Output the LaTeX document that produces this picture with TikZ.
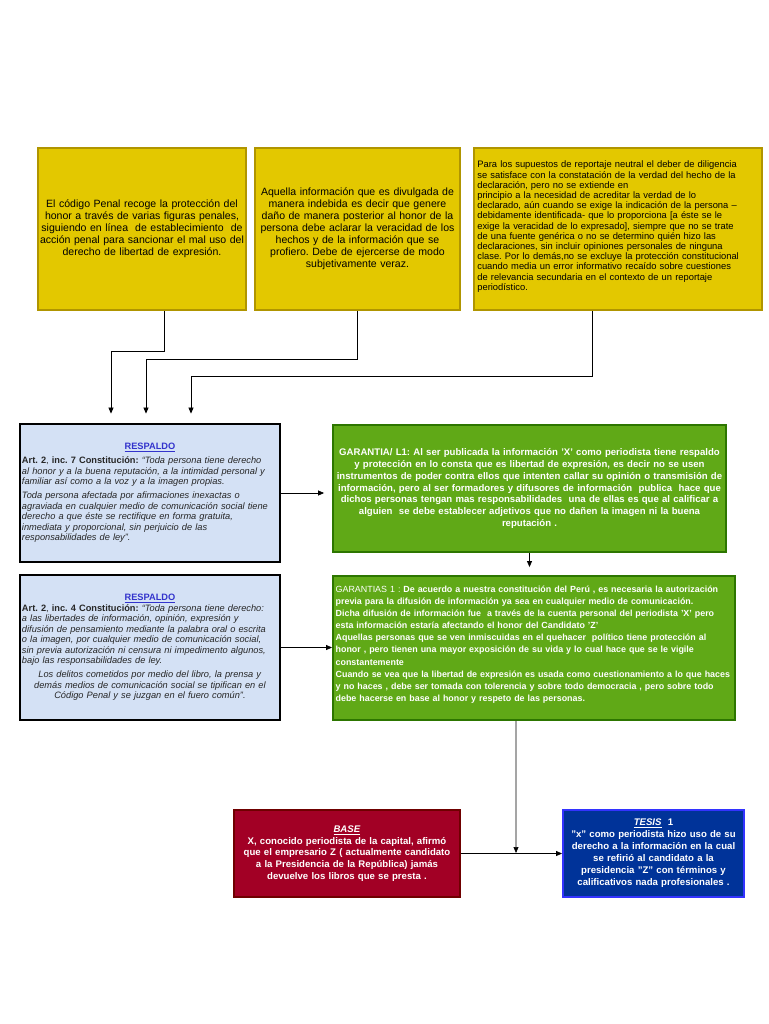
\documentclass[tikz,border=0pt]{standalone}
\usepackage{fontspec}
\setmainfont{Liberation Sans}
\usetikzlibrary{arrows.meta}
\setlength{\parindent}{0pt}
\frenchspacing
\definecolor{amarillo}{HTML}{E3C800}
\definecolor{amarilloborde}{HTML}{B09500}
\definecolor{verde}{HTML}{60A917}
\definecolor{verdeborde}{HTML}{2D7600}
\definecolor{rojo}{HTML}{A20025}
\definecolor{rojoborde}{HTML}{6F0000}
\definecolor{azul}{HTML}{003399}
\definecolor{azulborde}{HTML}{3333FF}
\definecolor{celeste}{HTML}{D4E1F5}
\definecolor{enlace}{HTML}{3333CC}

\begin{document}
\begin{tikzpicture}[x=0.3mm,y=-0.3mm,>={Triangle[length=1.8mm,width=1.5mm]},
  caja/.style={draw,line width=1.6pt,inner ysep=0pt},
  amarilla/.style={caja,fill=amarillo,draw=amarilloborde,text=black,minimum height=48.6mm},
  respaldo/.style={caja,fill=celeste,draw=black,line width=2.4pt,text=black!85,align=left,
    inner xsep=0.6mm,text width=76.8mm,minimum width=78mm,font=\fontsize{7.9}{9}\selectfont},
  verdecaja/.style={caja,fill=verde,draw=verdeborde,text=white,font=\bfseries\fontsize{8.2}{10.2}\selectfont},
  flecha/.style={->,line width=0.6pt}]
  \fill[white] (0,0) rectangle (768,1024);

  % fila de arriba
  \node[amarilla,align=center,text width=61.4mm,minimum width=62.4mm,inner xsep=0.5mm,
    font=\fontsize{9}{10.2}\selectfont] (codigo) at (142,229)
    {El código Penal recoge la protección del\\
     honor a través de varias figuras penales,\\
     siguiendo en línea \ de establecimiento \ de\\
     acción penal para sancionar el mal uso del\\
     derecho de libertad de expresión.};
  \node[amarilla,align=center,text width=60.5mm,minimum width=61.5mm,inner xsep=0.5mm,
    font=\fontsize{9}{10.2}\selectfont] (informacion) at (357.5,229)
    {Aquella información que es divulgada de\\
     manera indebida es decir que genere\\
     daño de manera posterior al honor de la\\
     persona debe aclarar la veracidad de los\\
     hechos y de la información que se\\
     profiero. Debe de ejercerse de modo\\
     subjetivamente veraz.};
  \node[amarilla,align=left,text width=84.4mm,minimum width=86.4mm,inner xsep=1mm,
    font=\fontsize{8}{8.7}\selectfont] (reportaje) at (618,229)
    {Para los supuestos de reportaje neutral el deber de diligencia\\
     se satisface con la constatación de la verdad del hecho de la\\
     declaración, pero no se extiende en\\
     principio a la necesidad de acreditar la verdad de lo\\
     declarado, aún cuando se exige la indicación de la persona --\\
     debidamente identificada- que lo proporciona [a éste se le\\
     exige la veracidad de lo expresado], siempre que no se trate\\
     de una fuente genérica o no se determino quién hizo las\\
     declaraciones, sin incluir opiniones personales de ninguna\\
     clase. Por lo demás,no se excluye la protección constitucional\\
     cuando media un error informativo recaído sobre cuestiones\\
     de relevancia secundaria en el contexto de un reportaje\\
     periodístico.\vspace{4pt}};

  % respaldos
  \node[respaldo,minimum height=41.4mm] (respaldo1) at (150,493)
    {\centerline{\textbf{\textcolor{enlace}{\underline{RESPALDO}}}\rule[-5pt]{0pt}{5pt}}
     \textbf{Art. 2}, \textbf{inc. 7 Constitución:} \textit{“Toda persona tiene derecho}\\
     \textit{al honor y a la buena reputación, a la intimidad personal y}\\
     \textit{familiar así como a la voz y a la imagen propias.}\par
     \vspace{3pt}
     \textit{Toda persona afectada por afirmaciones inexactas o}\\
     \textit{agraviada en cualquier medio de comunicación social tiene}\\
     \textit{derecho a que éste se rectifique en forma gratuita,}\\
     \textit{inmediata y proporcional, sin perjuicio de las}\\
     \textit{responsabilidades de ley”.}};
  \node[respaldo,minimum height=43.5mm] (respaldo2) at (150,647.5)
    {\centerline{\textbf{\textcolor{enlace}{\underline{RESPALDO}}}}
     \textbf{Art. 2}, \textbf{inc. 4 Constitución:} \textit{“Toda persona tiene derecho:}\\
     \textit{a las libertades de información, opinión, expresión y}\\
     \textit{difusión de pensamiento mediante la palabra oral o escrita}\\
     \textit{o la imagen, por cualquier medio de comunicación social,}\\
     \textit{sin previa autorización ni censura ni impedimento algunos,}\\
     \textit{bajo las responsabilidades de ley.}\par
     \vspace{3pt}
     \centerline{\textit{Los delitos cometidos por medio del libro, la prensa y}}
     \centerline{\textit{demás medios de comunicación social se tipifican en el}}
     \centerline{\textit{Código Penal y se juzgan en el fuero común”.}}};

  % garantias
  \node[verdecaja,align=center,text width=116.6mm,minimum width=117.9mm,inner xsep=0.6mm,
    minimum height=38.1mm] (garantia1) at (529.5,488.5)
    {GARANTIA/ L1: Al ser publicada la información 'X' como periodista tiene respaldo\\
     y protección en lo consta que es libertad de expresión, es decir no se usen\\
     instrumentos de poder contra ellos que intenten callar su opinión o transmisión de\\
     información, pero al ser formadores y difusores de información \ publica \ hace que\\
     dichos personas tengan mas responsabilidades \ una de ellas es que al calificar a\\
     alguien \ se debe establecer adjetivos que no dañen la imagen ni la buena\\
     reputación .};
  \node[verdecaja,align=left,text width=119mm,minimum width=120.6mm,inner xsep=0.8mm,
    font=\bfseries\fontsize{7.6}{10.4}\selectfont,minimum height=43.2mm] (garantia2) at (534,648)
    {{\mdseries GARANTIAS 1 :} De acuerdo a nuestra constitución del Perú , es necesaria la autorización\\
     previa para la difusión de información ya sea en cualquier medio de comunicación.\\
     Dicha difusión de información fue \ a través de la cuenta personal del periodista 'X' pero\\
     esta información estaría afectando el honor del Candidato 'Z'\\
     Aquellas personas que se ven inmiscuidas en el quehacer \ político tiene protección al\\
     honor , pero tienen una mayor exposición de su vida y lo cual hace que se le vigile\\
     constantemente\\
     Cuando se vea que la libertad de expresión es usada como cuestionamiento a lo que haces\\
     y no haces , debe ser tomada con tolerencia y sobre todo democracia , pero sobre todo\\
     debe hacerse en base al honor y respeto de las personas.\vspace{6pt}};

  % base y tesis
  \node[caja,fill=rojo,draw=rojoborde,text=white,align=center,text width=66mm,minimum width=67.8mm,
    inner xsep=0.9mm,minimum height=26.1mm,font=\bfseries\fontsize{8.2}{9.9}\selectfont] (base) at (347,853.5)
    {\underline{\textit{BASE}}\\
     X, conocido periodista de la capital, afirmó\\
     que el empresario Z ( actualmente candidato\\
     a la Presidencia de la República) jamás\\
     devuelve los libros que se presta .};
  \node[caja,fill=azul,draw=azulborde,text=white,align=center,text width=52.5mm,minimum width=54.3mm,
    inner xsep=0.9mm,minimum height=26.1mm,font=\bfseries\fontsize{8.2}{10.2}\selectfont] (tesis) at (653.5,853.5)
    {\underline{\textit{TESIS}} \ 1\\
     "x" como periodista hizo uso de su\\
     derecho a la información en la cual\\
     se refirió al candidato a la\\
     presidencia "Z" con términos y\\
     calificativos nada profesionales .};

  % conectores
  \coordinate (codo1) at (111,351);
  \coordinate (codo2) at (146,359);
  \coordinate (codo3) at (191,376);
  \coordinate (cruce) at (516,853);
  \draw[flecha,shorten >=2.7mm] ([xshift=6.6mm]codigo.south) |- (codo1) -- (codo1 |- respaldo1.north);
  \draw[flecha,shorten >=2.7mm] (informacion.south) |- (codo2) -- (codo2 |- respaldo1.north);
  \draw[flecha,shorten >=2.7mm] ([xshift=-7.8mm]reportaje.south) |- (codo3) -- (codo3 |- respaldo1.north);
  \draw[flecha,shorten >=2.4mm] (respaldo1.east) -- (respaldo1.east -| garantia1.west);
  \draw[flecha] (respaldo2.east) -- (respaldo2.east -| garantia2.west);
  \draw[flecha,shorten >=2.4mm] (garantia1.south) -- (garantia1.south |- garantia2.north);
  \draw[flecha] ([xshift=-5.4mm]garantia2.south) -- (cruce);
  \draw[flecha] (base.east) -- (tesis.west);
\end{tikzpicture}
\end{document}
